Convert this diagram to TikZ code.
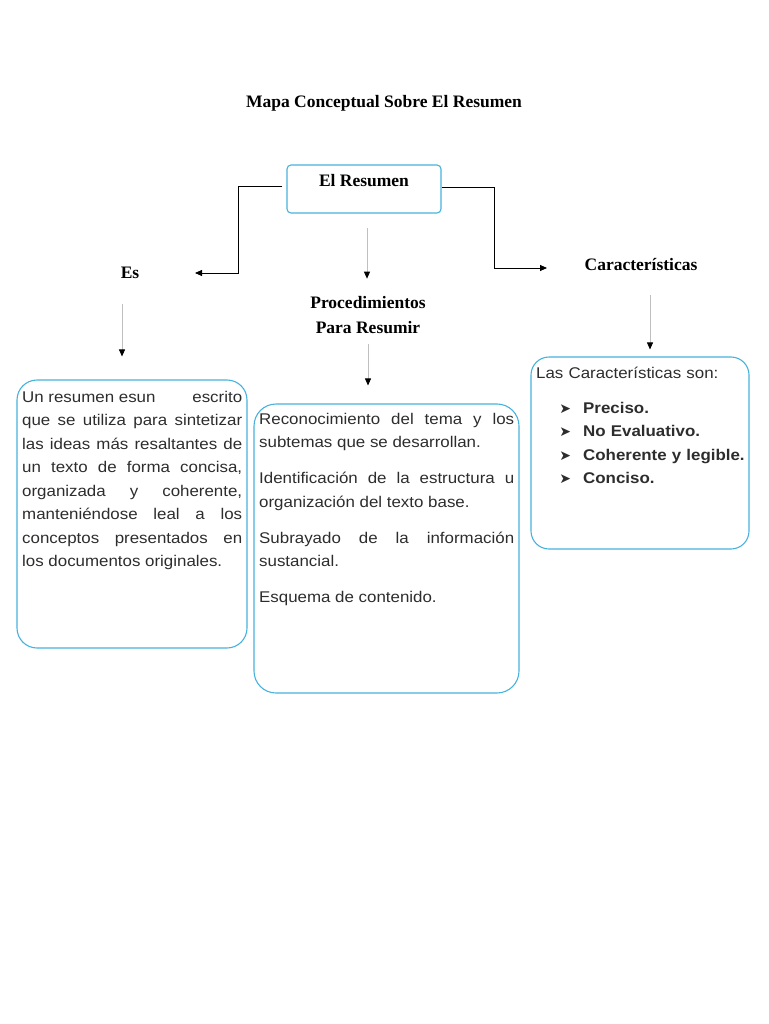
\documentclass[tikz,border=0pt]{standalone}
\usepackage{fontspec}
\setmainfont{Liberation Serif}
\setsansfont{Liberation Sans}[FakeStretch=1.09]
\newfontfamily\bulletfont{DejaVu Sans}
\usetikzlibrary{arrows.meta,positioning}
\definecolor{framecyan}{RGB}{70,178,222}
\definecolor{bodygray}{RGB}{45,45,45}
\newcommand{\itemarrow}{{\bulletfont\fontsize{14}{14}\selectfont ➤}}

\begin{document}
\begin{tikzpicture}[x=1pt,y=-1pt,
  head/.style={font=\fontsize{17.5}{21}\selectfont\bfseries, inner sep=0pt, align=center},
  frame/.style={draw=framecyan, line width=1.1pt, rounded corners=#1, inner sep=0pt},
  frame/.default=20pt,
  body/.style={font=\sffamily\fontsize{15.5}{23.5}\selectfont, text=bodygray, inner sep=0pt, anchor=north west, align=justify},
  conn/.style={draw=black, line width=0.8pt, -{Triangle[width=6pt,length=7pt]}},
  vconn/.style={draw=black!25, line width=0.8pt, -{Triangle[width=6pt,length=7pt,color=black]}}]
 \useasboundingbox (0,0) rectangle (768,1024);

 % title
 \node[head, anchor=base] (title) at (384,108) {Mapa Conceptual Sobre El Resumen};

 % top box
 \node[frame=4pt, minimum width=154pt, minimum height=48pt] (er) at (364,189) {};
 \node[head, anchor=base] (erlabel) at (364,187) {El Resumen};

 % labels
 \node[head, anchor=base] (es) at (130,278) {Es};
 \node[head, anchor=base] (proc) at (368,308) {Procedimientos};
 \node[head, anchor=base] (proc2) at (368,333) {Para Resumir};
 \node[head, anchor=base] (car) at (641,270) {Características};

 % boxes
 \node[frame=20pt, minimum width=230pt, minimum height=268pt] (esbox) at (132,514) {};
 \node[frame=22pt, minimum width=265pt, minimum height=289pt] (procbox) at (386.5,548.5) {};
 \node[frame=18pt, minimum width=218pt, minimum height=192pt] (carbox) at (640,453) {};

 % texts
 \node[body, text width=220pt] (estext) at (22,385.5) {\strut Un resumen esun\hfill escrito\linebreak
  que se utiliza para sintetizar\linebreak las ideas más resaltantes de\linebreak
  un texto de forma concisa,\linebreak organizada y coherente,\linebreak
  manteniéndose leal a los\linebreak conceptos presentados en\linebreak
  los documentos originales.};
 \node[body, text width=255pt] (proctext) at (259,407.5) {\strut Reconocimiento del tema y los\linebreak
  subtemas que se desarrollan.\par\vspace{12.5pt}
  Identificación de la estructura u\linebreak organización del texto base.\par\vspace{12.5pt}
  Subrayado de la información\linebreak sustancial.\par\vspace{12.5pt}
  Esquema de contenido.};
 \node[body, text width=212pt, align=left] (cartext) at (536,361.5) {\strut Las Características son:\par\vspace{11.5pt}
  \hspace*{47pt}\llap{\itemarrow\hspace{12pt}}\textbf{Preciso.}\\
  \hspace*{47pt}\llap{\itemarrow\hspace{12pt}}\textbf{No Evaluativo.}\\
  \hspace*{47pt}\llap{\itemarrow\hspace{12pt}}\textbf{Coherente y legible.}\\
  \hspace*{47pt}\llap{\itemarrow\hspace{12pt}}\textbf{Conciso.}};

 % connectors
 \coordinate (esin) at (195,273);
 \coordinate (carin) at (547,268);
 \draw[conn] ([shift={(-4,-3)}]er.west) -- ++(-44,0) |- (esin);
 \draw[conn] ([shift={(0,-2)}]er.east) -- ++(53,0) |- (carin);
 \draw[vconn] ([shift={(3,14)}]er.south) -- ([shift={(-1,-17)}]proc.north);
 \draw[vconn] ([shift={(-8,26)}]es.south) -- ([shift={(-10,-23)}]esbox.north);
 \draw[vconn] ([shift={(0,11)}]proc2.south) -- ([shift={(-18.5,-18)}]procbox.north);
 \draw[vconn] ([shift={(9,25)}]car.south) -- ([shift={(10,-7)}]carbox.north);
\end{tikzpicture}
\end{document}
